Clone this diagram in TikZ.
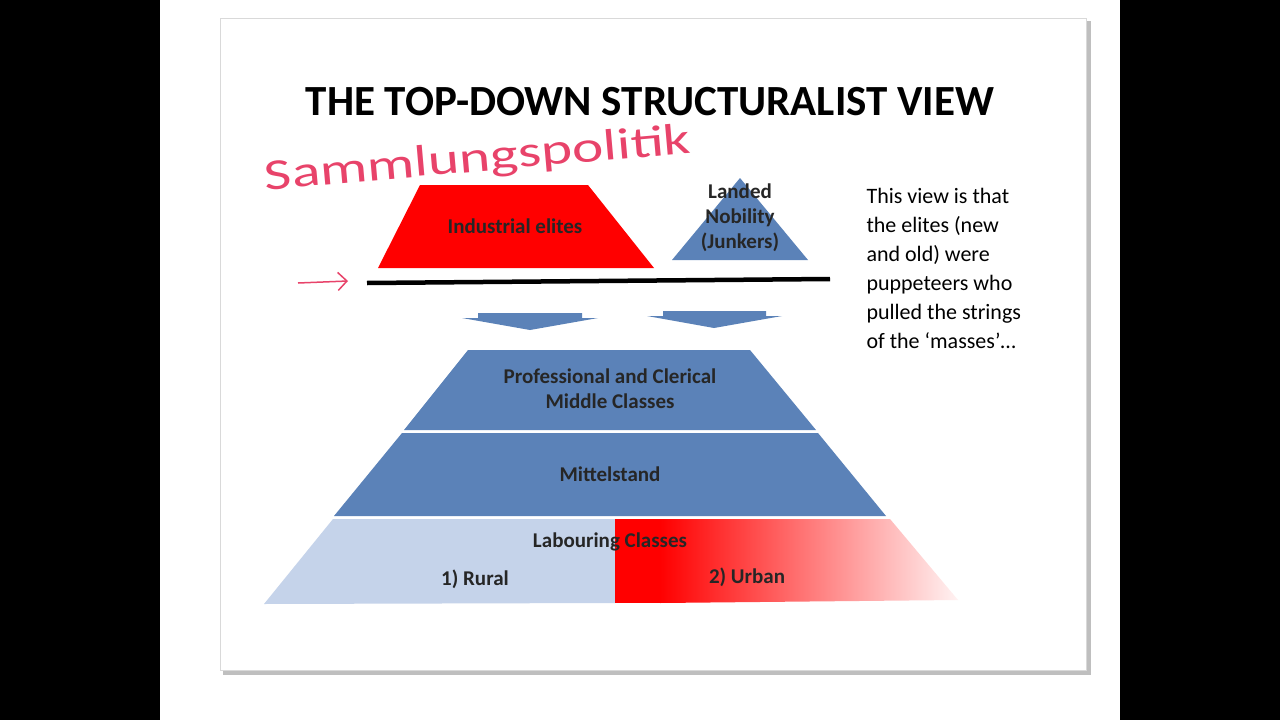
\documentclass[tikz,border=0pt]{standalone}
\usepackage{fontspec}
\setmainfont{Carlito}
\usetikzlibrary{calc,arrows.meta}
\definecolor{bl}{HTML}{5B82B8}
\definecolor{lb}{HTML}{C5D3EA}
\definecolor{pk}{HTML}{E8436A}
\begin{document}
\begin{tikzpicture}[x=1pt,y=-1pt,
 lbl/.style={font=\bfseries\fontsize{21}{25}\selectfont,align=center,text=black!85},
 sidetxt/.style={font=\fontsize{22}{29}\selectfont,align=left,anchor=north west}]
\useasboundingbox (0,0) rectangle (1280,720);
\fill[black] (0,0) rectangle (1280,720);
\fill[white] (160,0) rectangle (1120,720);
\fill[black!25] (223,21) rectangle (1091,675);
\fill[white] (220,18) rectangle (1086,670);
\draw[black!15] (220,18) rectangle (1086,670);
\node[font=\bfseries\fontsize{43}{46}\selectfont] (title) at (650,102) {THE TOP-DOWN STRUCTURALIST VIEW};
\node[text=pk,font=\fontsize{44}{46}\selectfont,rotate=5,xscale=1.35] (hand) at (478,160) {Sammlungspolitik};
\coordinate (ha) at (298,283); \coordinate (hb) at (348,281);
\draw[pk,line width=1.5,-{Straight Barb[length=9pt]}] (ha) -- (hb);
\fill[red] (420,185) -- (588,185) -- (654,268) -- (378,268) -- cycle;
\node[lbl] (ind) at (515,226) {Industrial elites};
\fill[bl] (740,178) -- (808,260) -- (672,260) -- cycle;
\node[lbl] (land) at (740,218) {Landed\\Nobility\\(Junkers)};
\draw[line width=4.5] (367,283) -- (830,279);
\fill[bl] (478,313) -- (582,313) -- (582,318) -- (598,318) -- (530,330) -- (462,318) -- (478,318) -- cycle;
\fill[bl] (663,311) -- (766,311) -- (766,316) -- (782,316) -- (714,328) -- (647,316) -- (663,316) -- cycle;
\fill[bl] (468,350) -- (750,350) -- (816,430) -- (404,430) -- cycle;
\node[lbl] (pro) at (610,389) {Professional and Clerical\\Middle Classes};
\fill[bl] (402,433) -- (818,433) -- (886,516) -- (334,516) -- cycle;
\node[lbl] (mit) at (610,474) {Mittelstand};
\fill[lb] (333,519) -- (615,519) -- (615,603) -- (264,604) -- cycle;
\fill[red] (615,519) rectangle (660,603);
\shade[left color=red,right color=red!5] (660,519) -- (890,519) -- (958,600) -- (660,603) -- cycle;
\node[lbl] (lab) at (610,542) {Labouring Classes};
\node[lbl] (rur) at (475,579) {1) Rural};
\node[lbl] (urb) at (747,577) {2) Urban};
\node[sidetxt] (side) at (863,185) {This view is that\\the elites (new\\and old) were\\puppeteers who\\pulled the strings\\of the ‘masses’…};
\end{tikzpicture}
\end{document}
